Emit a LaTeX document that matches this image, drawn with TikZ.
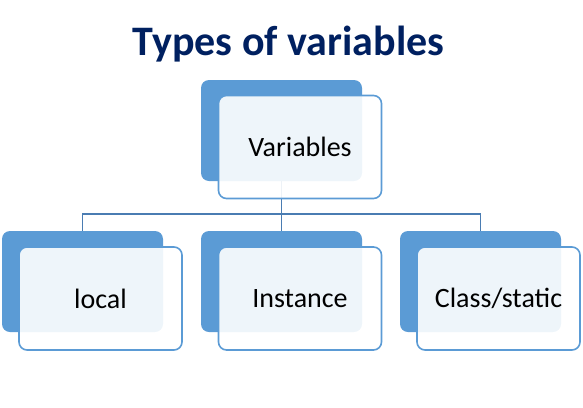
\documentclass[tikz,border=0pt]{standalone}
\usepackage{fontspec}
\setmainfont{Carlito}
\begin{document}
\begin{tikzpicture}[x=1pt,y=-1pt]
			\definecolor{xanh}{RGB}{91,155,213}
			\definecolor{duong}{RGB}{74,124,178}
			\definecolor{tieude}{RGB}{0,32,96}
			\tikzset{
				nen/.style={fill=xanh,rounded corners=8pt,minimum width=161pt,minimum height=101pt,inner sep=0pt},
				o/.style={draw=xanh,line width=1.6pt,fill=white,fill opacity=0.9,text opacity=1,rounded corners=8pt,minimum width=163pt,minimum height=103pt,inner sep=0pt,font=\fontsize{28}{32}\selectfont},
				noi/.style={draw=duong,line width=1.9pt}
			}
			\useasboundingbox (0,0) rectangle (583,407);
			
			%Tieu de
			\node[anchor=base,text=tieude,font=\fontsize{42}{46}\selectfont\bfseries] (tieude) at (288.5,55) {Types of variables};
			
			%Nen xanh
			\node[nen] (nen0) at (281.5,130.5) {};
			\foreach \x/\ten in {82.5/1, 281.5/2, 480.5/3}{
				\node[nen] (nen\ten) at (\x,281.5) {};
			}
			
			%Duong noi
			\coordinate (nhanh) at (281.5,214);
			\draw[noi] (nen0.south) -- (nhanh);
			\foreach \ten in {1,2,3}{
				\draw[noi] (nhanh) -| (nen\ten.north);
			}
			
			%O trang
			\node[o] (o0) at (300,147) {Variables};
			\foreach \x/\ten/\chu in {100.5/1/local, 300/2/Instance, 498.5/3/{Class/static}}{
				\node[o] (o\ten) at (\x,298.5) {\chu};
			}
		\end{tikzpicture}
\end{document}
